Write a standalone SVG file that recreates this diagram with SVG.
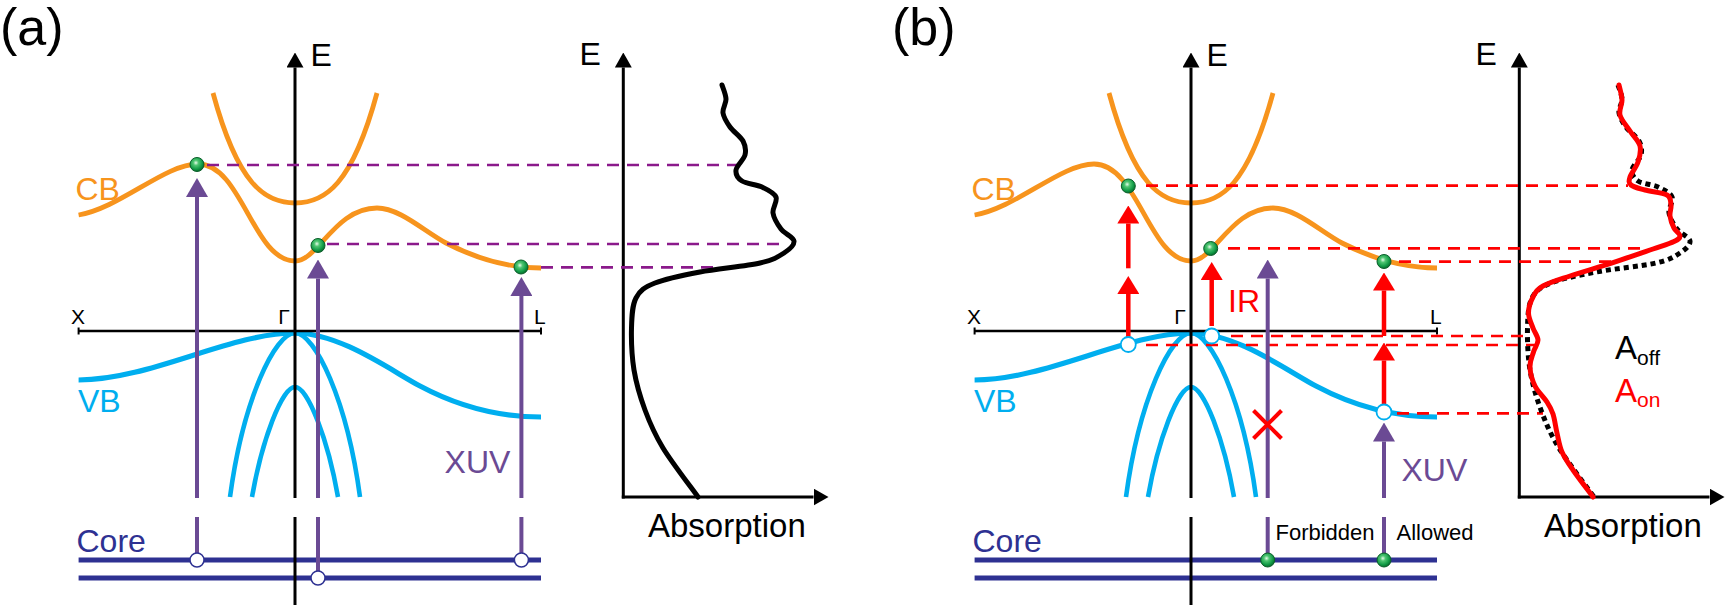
<svg xmlns="http://www.w3.org/2000/svg" xmlns:xlink="http://www.w3.org/1999/xlink" width="1725" height="605" viewBox="0 0 1725 605">
<style>
.t{font-family:"Liberation Sans",Arial,Helvetica,sans-serif}
.or{fill:none;stroke:#F7941D;stroke-width:4.8}
.cy{fill:none;stroke:#00AEEF;stroke-width:5.2}
.cy2{fill:none;stroke:#00AEEF;stroke-width:4.6}
.ax{stroke:#000;stroke-width:3;fill:none}
.ax2{stroke:#000;stroke-width:2.7;fill:none}
.pu{stroke:#6B4A94;stroke-width:4;fill:none}
.rd{stroke:#FF0000;stroke-width:4.5;fill:none}
.dp{stroke:#8B1A8B;stroke-width:2.7;stroke-dasharray:12 8;fill:none}
.dr{stroke:#FF0000;stroke-width:2.7;stroke-dasharray:12 8;fill:none}
.core{stroke:#2E3192;stroke-width:5}
.gdot{fill:url(#gg);stroke:#0b5e2a;stroke-width:1}
.wdot{fill:#fff;stroke:#2E3192;stroke-width:1.5}
.wdotc{fill:#fff;stroke:#00AEEF;stroke-width:1.8}
.absK{fill:none;stroke:#000;stroke-width:5;stroke-linecap:round}
.absD{fill:none;stroke:#000;stroke-width:5;stroke-dasharray:5 4}
.absR{fill:none;stroke:#FF0000;stroke-width:5;stroke-linecap:round}
</style>
<defs>
<radialGradient id="gg" cx="0.42" cy="0.38" r="0.62">
<stop offset="0" stop-color="#e6fbe9"/>
<stop offset="0.3" stop-color="#4fc572"/>
<stop offset="0.75" stop-color="#0f9944"/>
<stop offset="1" stop-color="#0a6a2e"/>
</radialGradient>
<marker id="mK" markerUnits="userSpaceOnUse" markerWidth="15" markerHeight="17" refX="0" refY="8.5" orient="auto" viewBox="0 0 15 17"><path d="M0,0L15,8.5L0,17z" fill="#000"/></marker>
<marker id="mP" markerUnits="userSpaceOnUse" markerWidth="19" markerHeight="22" refX="0" refY="11" orient="auto" viewBox="0 0 19 22"><path d="M0,0L19,11L0,22z" fill="#6B4A94"/></marker>
<marker id="mR" markerUnits="userSpaceOnUse" markerWidth="18" markerHeight="22" refX="0" refY="11" orient="auto" viewBox="0 0 18 22"><path d="M0,0L18,11L0,22z" fill="#FF0000"/></marker>
<path id="cb" d="M78.6,215 C120,208 165,164 198,164 C242,164 253,261 295,261 C318,261 335,208 377,208 C400,208 425,232 446,243 C475,258 505,268 541,268"/>
<path id="cbUp" d="M213,93 C238,185 265,203 295,203 C325,203 352,185 377,93"/>
<path id="vb" d="M78.6,380 C150,380 230,333 295,333 C340,333 390,370 420,386 C450,402 490,417 541,417"/>
<path id="vbO" d="M230,497 C243,400 275,333 295,333 C315,333 347,400 360,497"/>
<path id="vbI" d="M252,497 C262,440 282,387 295,387 C308,387 328,440 338,497"/>
<path id="absA" d="M722,85 C722.7,87.3 725.8,94.3 726,99 C726.2,103.7 722.3,108.3 723,113 C723.7,117.7 726.7,122.3 730,127 C733.3,131.7 740.5,136.3 743,141 C745.5,145.7 746.2,150.2 745,155 C743.8,159.8 736.5,165.7 736,170 C735.5,174.3 737.7,178.2 742,181 C746.3,183.8 756.3,184.3 762,187 C767.7,189.7 774.2,192.7 776,197 C777.8,201.3 772.2,207.7 773,213 C773.8,218.3 777.5,224.3 781,229 C784.5,233.7 793.5,237 794,241 C794.5,245 789.7,249.3 784,253 C778.3,256.7 774,259.8 760,263 C746,266.2 717.5,268.7 700,272 C682.5,275.3 665.7,278.7 655,283 C644.3,287.3 639.9,290.5 636,298 C632.1,305.5 631.8,316 631.5,328 C631.2,340 631.8,356.3 634,370 C636.3,383.7 640.2,397 645,410 C649.8,423 654.2,433.5 663,448 C671.8,462.5 692.2,488.8 698,497"/>
</defs>

<g id="panel-a-bands">
<use href="#cbUp" class="or"/>
<use href="#cb" class="or"/>
<use href="#vb" class="cy"/>
<use href="#vbO" class="cy2"/>
<use href="#vbI" class="cy2"/>
<line class="core" x1="78.6" y1="560" x2="541" y2="560"/>
<line class="core" x1="78.6" y1="578" x2="541" y2="578"/>
</g>

<g id="panel-b-bands" transform="translate(896 0)">
<use href="#cbUp" class="or"/>
<use href="#cb" class="or"/>
<use href="#vb" class="cy"/>
<use href="#vbO" class="cy2"/>
<use href="#vbI" class="cy2"/>
<line class="core" x1="78.6" y1="560" x2="541" y2="560"/>
<line class="core" x1="78.6" y1="578" x2="541" y2="578"/>
</g>

<g id="axes">
<line class="ax2" x1="78.6" y1="331" x2="541" y2="331"/>
<line stroke="#000" stroke-width="2" x1="78.6" y1="327.5" x2="78.6" y2="334.5"/>
<line stroke="#000" stroke-width="2" x1="541" y1="327.5" x2="541" y2="334.5"/>
<line class="ax" x1="295" y1="498" x2="295" y2="67.5" marker-end="url(#mK)"/>
<line class="ax" x1="295" y1="517" x2="295" y2="605"/>
<line class="ax" x1="623.3" y1="498.5" x2="623.3" y2="67.5" marker-end="url(#mK)"/>
<line class="ax" x1="621.8" y1="497" x2="813.5" y2="497" marker-end="url(#mK)"/>

<line class="ax2" x1="974.6" y1="331" x2="1437" y2="331"/>
<line stroke="#000" stroke-width="2" x1="974.6" y1="327.5" x2="974.6" y2="334.5"/>
<line stroke="#000" stroke-width="2" x1="1437" y1="327.5" x2="1437" y2="334.5"/>
<line class="ax" x1="1191" y1="498" x2="1191" y2="67.5" marker-end="url(#mK)"/>
<line class="ax" x1="1191" y1="517" x2="1191" y2="605"/>
<line class="ax" x1="1519.3" y1="498.5" x2="1519.3" y2="67.5" marker-end="url(#mK)"/>
<line class="ax" x1="1517.8" y1="497" x2="1709.5" y2="497" marker-end="url(#mK)"/>
</g>

<g id="connectors">
<line class="dp" x1="207" y1="165" x2="737" y2="165"/>
<line class="dp" x1="327" y1="244" x2="782" y2="244"/>
<line class="dp" x1="541" y1="267.3" x2="720" y2="267.3"/>

<line class="dr" x1="1146" y1="185.7" x2="1628" y2="185.7"/>
<line class="dr" x1="1228" y1="248.3" x2="1647" y2="248.3"/>
<line class="dr" x1="1399" y1="261.7" x2="1617" y2="261.7"/>
<line class="dr" x1="1231" y1="336" x2="1530" y2="336"/>
<line class="dr" x1="1146" y1="345" x2="1537" y2="345"/>
<line class="dr" x1="1397" y1="413.3" x2="1543" y2="413.3"/>

<line class="pu" x1="197" y1="498" x2="197" y2="197" marker-end="url(#mP)"/>
<line class="pu" x1="197" y1="517" x2="197" y2="560"/>
<line class="pu" x1="318" y1="498" x2="318" y2="278.5" marker-end="url(#mP)"/>
<line class="pu" x1="318" y1="517" x2="318" y2="578"/>
<line class="pu" x1="521.4" y1="498" x2="521.4" y2="296" marker-end="url(#mP)"/>
<line class="pu" x1="521.4" y1="517" x2="521.4" y2="560"/>

<line class="pu" x1="1267.7" y1="498" x2="1267.7" y2="278.5" marker-end="url(#mP)"/>
<line class="pu" x1="1267.7" y1="517" x2="1267.7" y2="560"/>
<line class="pu" x1="1384" y1="498" x2="1384" y2="441.5" marker-end="url(#mP)"/>
<line class="pu" x1="1384" y1="517" x2="1384" y2="560"/>

<line class="rd" x1="1128.3" y1="268.3" x2="1128.3" y2="223.5" marker-end="url(#mR)"/>
<line class="rd" x1="1128.3" y1="344" x2="1128.3" y2="294" marker-end="url(#mR)"/>
<line class="rd" x1="1211.7" y1="326" x2="1211.7" y2="280" marker-end="url(#mR)"/>
<line class="rd" x1="1384" y1="336" x2="1384" y2="290.5" marker-end="url(#mR)"/>
<line class="rd" x1="1384" y1="405" x2="1384" y2="360.5" marker-end="url(#mR)"/>

<g id="forbidden-cross" stroke="#FF0000" stroke-width="4">
<line x1="1253.5" y1="410.5" x2="1281.5" y2="438.5"/>
<line x1="1281.5" y1="410.5" x2="1253.5" y2="438.5"/>
</g>
</g>

<g id="spectra">
<use href="#absA" class="absK"/>
<use href="#absA" class="absD" transform="translate(896 0)"/>
<path class="absR" d="M1619,85 C1619.5,87.5 1621.8,95 1622,100 C1622.2,105 1618.7,109.8 1620,115 C1621.3,120.2 1626.7,125.8 1630,131 C1633.3,136.2 1638.7,140.8 1640,146 C1641.3,151.2 1639.7,156.8 1638,162 C1636.3,167.2 1631.2,173.2 1630,177 C1628.8,180.8 1628.5,182.8 1631,185 C1633.5,187.2 1639,188.3 1645,190 C1651,191.7 1662.7,192.5 1667,195 C1671.3,197.5 1670.5,201.5 1671,205 C1671.5,208.5 1669.5,212.2 1670,216 C1670.5,219.8 1672.3,224.7 1674,228 C1675.7,231.3 1680,233.75 1680,236 C1680,238.25 1678.5,239.3 1674,241.5 C1669.5,243.7 1663.2,245.5 1653,249 C1642.8,252.5 1626.8,258.1 1613,262.6 C1599.2,267.1 1581.7,272.1 1570,276 C1558.3,279.9 1549.2,282.5 1543,286 C1536.8,289.5 1535.4,292.5 1533,297 C1530.6,301.5 1528.5,307.8 1528.5,313 C1528.5,318.2 1531.4,323.5 1533,328 C1534.6,332.5 1537.9,336 1538,340 C1538.1,344 1534.8,347.5 1533.5,352 C1532.2,356.5 1529.75,361.3 1530,367 C1530.25,372.7 1532.2,380.2 1535,386 C1537.8,391.8 1544,397.3 1547,402 C1550,406.7 1551.3,408.8 1553,414 C1554.7,419.2 1555.5,426.7 1557,433 C1558.5,439.3 1559.3,445.8 1562,452 C1564.7,458.2 1567.8,462.5 1573,470 C1578.2,477.5 1589.7,492.5 1593,497"/>
</g>

<g id="dots">
<circle class="gdot" cx="197" cy="164.5" r="7"/>
<circle class="gdot" cx="318" cy="245.5" r="7"/>
<circle class="gdot" cx="521" cy="267" r="7"/>
<circle class="wdot" cx="197" cy="560" r="7"/>
<circle class="wdot" cx="318" cy="578" r="7"/>
<circle class="wdot" cx="521.4" cy="560" r="7"/>

<circle class="gdot" cx="1128.3" cy="186" r="7"/>
<circle class="gdot" cx="1210.7" cy="248.5" r="7"/>
<circle class="gdot" cx="1384" cy="261.5" r="7"/>
<circle class="wdotc" cx="1128.3" cy="344.5" r="7.5"/>
<circle class="wdotc" cx="1211.7" cy="336" r="7.5"/>
<circle class="wdotc" cx="1384" cy="412" r="7.5"/>
<circle class="gdot" cx="1267.7" cy="560" r="7"/>
<circle class="gdot" cx="1384" cy="560" r="7"/>
</g>

<g id="labels" class="t">
<text x="0" y="45" font-size="52" fill="#000">(a)</text>
<text x="892" y="45" font-size="52" fill="#000">(b)</text>
<text x="310.5" y="66" font-size="32" fill="#000">E</text>
<text x="579.5" y="65" font-size="32" fill="#000">E</text>
<text x="1206.5" y="66" font-size="32" fill="#000">E</text>
<text x="1475.5" y="65" font-size="32" fill="#000">E</text>
<text x="75.5" y="200" font-size="32" fill="#F7941D">CB</text>
<text x="971.5" y="200" font-size="32" fill="#F7941D">CB</text>
<text x="78" y="411.5" font-size="32" fill="#00AEEF">VB</text>
<text x="974" y="411.5" font-size="32" fill="#00AEEF">VB</text>
<text x="76.5" y="551.5" font-size="32" fill="#2E3192">Core</text>
<text x="972.5" y="551.5" font-size="32" fill="#2E3192">Core</text>
<text x="71" y="323.5" font-size="21" fill="#000">X</text>
<text x="278.3" y="323.5" font-size="21" fill="#000">Γ</text>
<text x="534" y="323.5" font-size="21" fill="#000">L</text>
<text x="967" y="323.5" font-size="21" fill="#000">X</text>
<text x="1174.3" y="323.5" font-size="21" fill="#000">Γ</text>
<text x="1430" y="323.5" font-size="21" fill="#000">L</text>
<text x="444.6" y="473.3" font-size="32" fill="#6B4A94">XUV</text>
<text x="1401.5" y="481" font-size="32" fill="#6B4A94">XUV</text>
<text x="1228" y="311.7" font-size="32" fill="#FF0000">IR</text>
<text x="1275.5" y="539.5" font-size="22" fill="#000">Forbidden</text>
<text x="1396.5" y="539.5" font-size="22" fill="#000">Allowed</text>
<text x="648" y="537" font-size="33" fill="#000">Absorption</text>
<text x="1544" y="537" font-size="33" fill="#000">Absorption</text>
<text x="1615" y="359.4" font-size="33" fill="#000">A<tspan font-size="21" dy="6">off</tspan></text>
<text x="1615" y="402" font-size="33" fill="#FF0000">A<tspan font-size="21" dy="5">on</tspan></text>
</g>
</svg>
